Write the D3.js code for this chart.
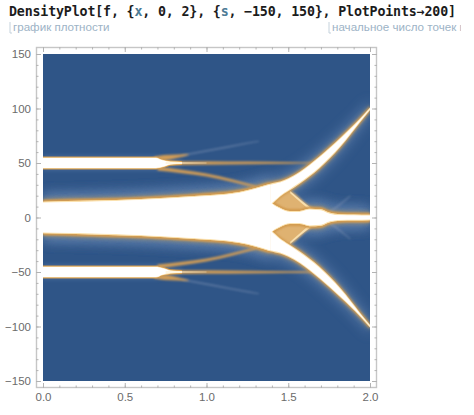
<!DOCTYPE html>
<html>
<head>
<meta charset="utf-8">
<style>
  html, body { margin: 0; background: #fff; }
  svg { display: block; }
</style>
<script src="https://cdnjs.cloudflare.com/ajax/libs/d3/7.8.5/d3.min.js"></script>
</head>
<body>
<script>
// values: x position and upper / lower edge in s
const xTicks = [0, 0.5, 1, 1.5, 2];
const yTicks = [-150, -100, -50, 0, 50, 100, 150];

// big white body around s = 0, upper edge (mirrored for the lower half)
const bodyX  = [0, 0.3, 0.6, 0.9, 1.2, 1.39];
const bodyHi = [13.5, 14.5, 16, 18.5, 22.5, 30];

// arm that leaves the body and ends at s = 100
const armX  = [1.39, 1.42, 1.45, 1.5, 1.57, 1.69, 1.82, 1.94, 2];
const armHi = [30, 31, 32, 35, 41, 55, 72.5, 90, 100];
const armLo = [12, 16, 20, 25, 32, 46, 66, 88.5, 99.5];

// centre line with its star near x = 1.7
const lineX  = [1.36, 1.39, 1.45, 1.51, 1.57, 1.63, 1.7, 1.75, 1.82, 1.9, 2];
const lineHi = [20, 14, 8, 5, 5, 7, 6.5, 3.5, 2, 1.8, 1.5];

// band around s = 50
const bandX  = [0, 0.3, 0.6, 0.69, 0.73, 0.78, 0.85];
const bandHi = [54.6, 54.6, 54.6, 54.6, 52.5, 51, 50.5];
const bandLo = [45.4, 45.4, 45.4, 45.4, 46.5, 48.8, 49.5];

// fans leaving the band
const midX  = [0.75, 1, 1.25, 1.5, 1.65];
const midHi = [51.6, 51.3, 51, 50.6, 50.3];
const midLo = [48.4, 48.8, 49.1, 49.6, 49.8];
const outX  = [0.68, 0.74, 0.82, 0.89];
const outHi = [55.5, 57, 57.5, 58];
const outLo = [54, 52.8, 54.8, 57.6];
const outFaintX  = [0.85, 1.05, 1.2, 1.32];
const outFaintHi = [57.5, 63, 67, 70];
const outFaintLo = [56.5, 62, 66.5, 69.8];
const inX  = [0.7, 0.85, 1, 1.15, 1.3];
const inHi = [46.5, 43.5, 40, 35, 29];
const inLo = [43.5, 41, 38, 33, 27.5];

// gold wedge left of the star and the rays around it
const wedgeX  = [1.37, 1.42, 1.48, 1.54, 1.6, 1.66];
const wedgeHi = [14, 19, 25, 21, 13, 6];
const wedgeLo = [12, 7, 5.5, 5, 5, 5];
const rayX  = [1.51, 1.58, 1.65];
const rayHi = [24, 15, 7];
const rayLo = [23, 13.8, 5];
const sparkX  = [1.75, 1.82, 1.88];
const sparkHi = [5.5, 13, 20];
const sparkLo = [3, 11.8, 19.6];

const width = 474;
const height = 415;

const x = d3.scaleLinear().domain([0, 2]).range([43, 370]);
const y = d3.scaleLinear().domain([-150, 150]).range([381, 54]);

const svg = d3.select('body')
    .append('svg')
    .attr('width', width)
    .attr('height', height);

const defs = svg.append('defs');
defs.append('clipPath').attr('id', 'plotClip')
    .append('rect')
    .attr('x', x(0)).attr('y', y(150))
    .attr('width', x(2) - x(0)).attr('height', y(-150) - y(150));
defs.append('clipPath').attr('id', 'noteClip')
    .append('rect').attr('x', 0).attr('y', 20).attr('width', 461).attr('height', 20);
[['b8', 6], ['b3', 2.2], ['b1', 1.1], ['b06', 0.7]].forEach(f => {
    defs.append('filter').attr('id', f[0])
        .attr('filterUnits', 'userSpaceOnUse')
        .attr('x', 0).attr('y', 0).attr('width', width).attr('height', height)
        .append('feGaussianBlur').attr('stdDeviation', f[1]);
});

// header
const title = svg.append('text')
    .attr('x', 9).attr('y', 16)
    .attr('font-family', 'DejaVu Sans Mono')
    .attr('font-weight', 'bold')
    .attr('font-size', 13.3)
    .attr('fill', '#1c1c1c')
    .attr('textLength', 447)
    .attr('lengthAdjust', 'spacing');
[['DensityPlot[f, {'], ['x', '#4d7b96'], [', 0, 2}, {'], ['s', '#4d7b96'], [', \u2212150, 150}, PlotPoints\u2192200]']]
    .forEach(p => title.append('tspan').attr('fill', p[1] || '#1c1c1c').text(p[0]));

const notes = [[13, 'график плотности'], [332, 'начальное число точек в']];
const noteG = svg.append('g').attr('clip-path', 'url(#noteClip)');
noteG.selectAll('text').data(notes).join('text')
    .attr('x', d => d[0]).attr('y', 31)
    .attr('font-family', 'Liberation Sans')
    .attr('font-size', 11.6)
    .attr('fill', '#9db3c6')
    .text(d => d[1]);
noteG.selectAll('path').data(notes).join('path')
    .attr('d', d => `M${d[0] - 3},22V33H${d[0] - 1}`)
    .attr('fill', 'none').attr('stroke', '#c5d2dc');

// density picture
const plot = svg.append('g').attr('clip-path', 'url(#plotClip)');
plot.append('rect')
    .attr('x', x(0)).attr('y', y(150))
    .attr('width', x(2) - x(0)).attr('height', y(-150) - y(150))
    .attr('fill', '#2f5587');

function table(xs, hi, lo) {
    return xs.map((v, i) => ({x: v, hi: hi[i], lo: lo ? lo[i] : -hi[i]}));
}

const centre = [table(bodyX, bodyHi), table(armX, armHi, armLo), table(lineX, lineHi)];
const band = [table(bandX, bandHi, bandLo)];
const fans = [table(midX, midHi, midLo), table(outX, outHi, outLo), table(inX, inHi, inLo)];
const wedge = [table(wedgeX, wedgeHi, wedgeLo)];
const rays = [table(rayX, rayHi, rayLo)];
const faints = [table(outFaintX, outFaintHi, outFaintLo), table(sparkX, sparkHi, sparkLo)];

function bandPath(sign, grow) {
    return d3.area()
        .x(d => x(d.x))
        .y0(d => y(sign * (d.lo - grow)))
        .y1(d => y(sign * (d.hi + grow)))
        .curve(d3.curveMonotoneX);
}

function layer(rows, grow, fill, filter, opacity) {
    [1, -1].forEach(sign => {
        plot.append('g')
            .attr('filter', `url(#${filter})`)
            .attr('opacity', opacity)
            .selectAll('path').data(rows).join('path')
            .attr('d', bandPath(sign, grow))
            .attr('fill', fill);
    });
}

// soft blue halo first, then gold, then the white core
layer(centre, 8, '#5f80ad', 'b8', 0.7);
layer(band, 2, '#5f80ad', 'b3', 0.5);
layer(centre, 4, '#8c8a7c', 'b3', 0.6);
layer(wedge, 1, '#dfb271', 'b1', 1);
layer(faints, 0.4, '#7f93b4', 'b1', 0.55);
layer(fans, 0.3, '#d09c57', 'b1', 1);
layer(rays, 0.6, '#f8dfae', 'b06', 1);
layer(centre, 2.4, '#d39b50', 'b1', 1);
layer(band, 1.4, '#d39b50', 'b06', 1);
layer(centre, 1, '#fbe2b0', 'b06', 1);
layer(band, 0.5, '#fbe2b0', 'b06', 1);
layer(centre, 0, '#ffffff', 'b06', 1);
layer(band, 0, '#ffffff', 'b06', 1);
layer([table(midX.slice(0, 2), [50.6, 50.3], [49.4, 49.7])], 0, '#fff3d6', 'b06', 0.9);

// frame and ticks
const tickColor = '#b3b3b3';
const labelColor = '#6b6b6b';
svg.append('rect')
    .attr('x', 36.5).attr('y', 47.5)
    .attr('width', 340).attr('height', 340)
    .attr('fill', 'none')
    .attr('stroke', '#c6c6c6')
    .attr('stroke-width', 1.4);

const xMinor = d3.range(0, 21).map(i => i / 10);
const yMinor = d3.range(-15, 16).map(i => i * 10);
const fmt = d3.format('.1f');

function addAxis(axis, tx, ty, values, size, labels) {
    const g = svg.append('g').attr('transform', `translate(${tx},${ty})`);
    g.call(axis.tickValues(values).tickSizeInner(-size).tickSizeOuter(0).tickPadding(5));
    g.select('.domain').remove();
    g.selectAll('line').attr('stroke', tickColor);
    if (!labels) g.selectAll('text').remove();
    else g.selectAll('text')
        .attr('font-family', 'Liberation Sans')
        .attr('font-size', 11.5)
        .attr('fill', labelColor);
}

addAxis(d3.axisBottom(x).tickFormat(fmt), 0, 388, xMinor, 2.5, false);
addAxis(d3.axisBottom(x).tickFormat(fmt), 0, 388, xTicks, 5, true);
addAxis(d3.axisTop(x).tickFormat(''), 0, 47, xMinor, 2.5, false);
addAxis(d3.axisTop(x).tickFormat(''), 0, 47, xTicks, 5, false);
addAxis(d3.axisLeft(y), 36, 0, yMinor, 2.5, false);
addAxis(d3.axisLeft(y), 36, 0, yTicks, 5, true);
addAxis(d3.axisRight(y).tickFormat(''), 377, 0, yMinor, 2.5, false);
addAxis(d3.axisRight(y).tickFormat(''), 377, 0, yTicks, 5, false);
</script>
</body>
</html>
